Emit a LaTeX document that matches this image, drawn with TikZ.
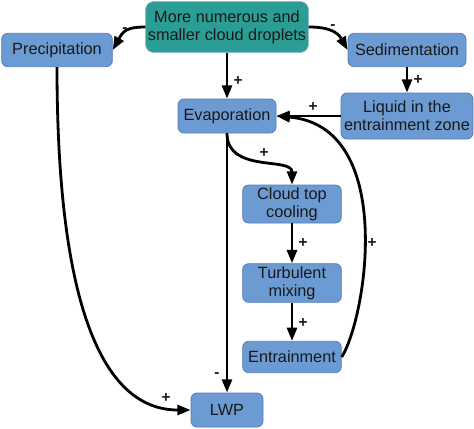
\documentclass[tikz,border=0pt]{standalone}
\usepackage{fontspec}
\setmainfont{Liberation Sans}
\usepackage{tikz}
\usepackage{xcolor}
\usetikzlibrary{arrows.meta, positioning, calc}
\definecolor{boxblue}{RGB}{108,155,211}
\definecolor{edgeblue}{RGB}{84,126,186}
\definecolor{boxteal}{RGB}{42,157,148}
\definecolor{edgeteal}{RGB}{120,170,190}

\begin{document}
\begin{tikzpicture}[x=0.75pt, y=-0.75pt,
    every node/.style={font=\fontsize{12.2pt}{13.5pt}\selectfont, text=black!90, inner sep=0pt},
    box/.style={draw=edgeblue, line width=0.6pt, fill=boxblue, rounded corners=4.5pt, align=center},
    topbox/.style={box, draw=edgeteal, fill=boxteal, rounded corners=6pt},
    sign/.style={font=\fontsize{11.5pt}{11.5pt}\selectfont\bfseries},
    link/.style={line width=2.1pt, -{Triangle[length=10pt, width=7.5pt]}}]
                        \useasboundingbox (0, 0) rectangle (474, 428);
                        \node[topbox, minimum width=122pt, minimum height=38pt] (drop) at (227, 27) {More numerous and\\smaller cloud droplets};
                        \node[box, minimum width=83pt, minimum height=25pt] (prec) at (57, 50) {Precipitation};
                        \node[box, minimum width=88.5pt, minimum height=25pt] (sed) at (407, 50) {Sedimentation};
                        \node[box, minimum width=73.5pt, minimum height=25.5pt] (evap) at (227, 116) {Evaporation};
                        \node[box, minimum width=99pt, minimum height=34.5pt] (liq) at (407, 116) {Liquid in the\\entrainment zone};
                        \node[box, minimum width=74pt, minimum height=28.5pt] (cool) at (292, 204) {Cloud top\\cooling};
                        \node[box, minimum width=74pt, minimum height=29pt] (mix) at (292, 283) {Turbulent\\mixing};
                        \node[box, minimum width=74pt, minimum height=23.5pt] (entr) at (292, 357) {Entrainment};
                        \node[box, minimum width=54pt, minimum height=25.5pt] (lwp) at (227, 410) {LWP};
                        % signs
                        \node[sign] (s1) at (125, 30) {-};
                        \node[sign] (s2) at (333, 27) {-};
                        \node[sign] (s3) at (238, 81) {+};
                        \node[sign] (s4) at (418, 80) {+};
                        \node[sign] (s5) at (313, 107) {+};
                        \node[sign] (s6) at (264, 153) {+};
                        \node[sign] (s7) at (303, 243) {+};
                        \node[sign] (s8) at (303, 323) {+};
                        \node[sign] (s9) at (372, 243) {+};
                        \node[sign] (s10) at (217, 375) {-};
                        \node[sign] (s11) at (166, 398) {+};
                        \draw[link] (drop.west) .. controls +(-20, 0) and +(10, -18) .. (prec.east);
                        \draw[link] (drop.east) .. controls +(20, 0) and +(-10, -18) .. (sed.west);
                        \draw[link] (drop) -- (evap);
                        \draw[link] (sed) -- (liq);
                        \draw[link] (liq) -- (evap);
                        \draw[link] (evap.south) .. controls +(0, 40) and +(0, -28) .. (cool.north);
                        \draw[link] (cool) -- (mix);
                        \draw[link] (mix) -- (entr);
                        \draw[link] (entr.east) .. controls +(25, -40) and +(120, 10) .. (evap.east);
                        \draw[link] (evap) -- (lwp);
                        \draw[link] (prec.south) .. controls +(0, 230) and +(-91, 0) .. (lwp.west);
                    \end{tikzpicture}
\end{document}
